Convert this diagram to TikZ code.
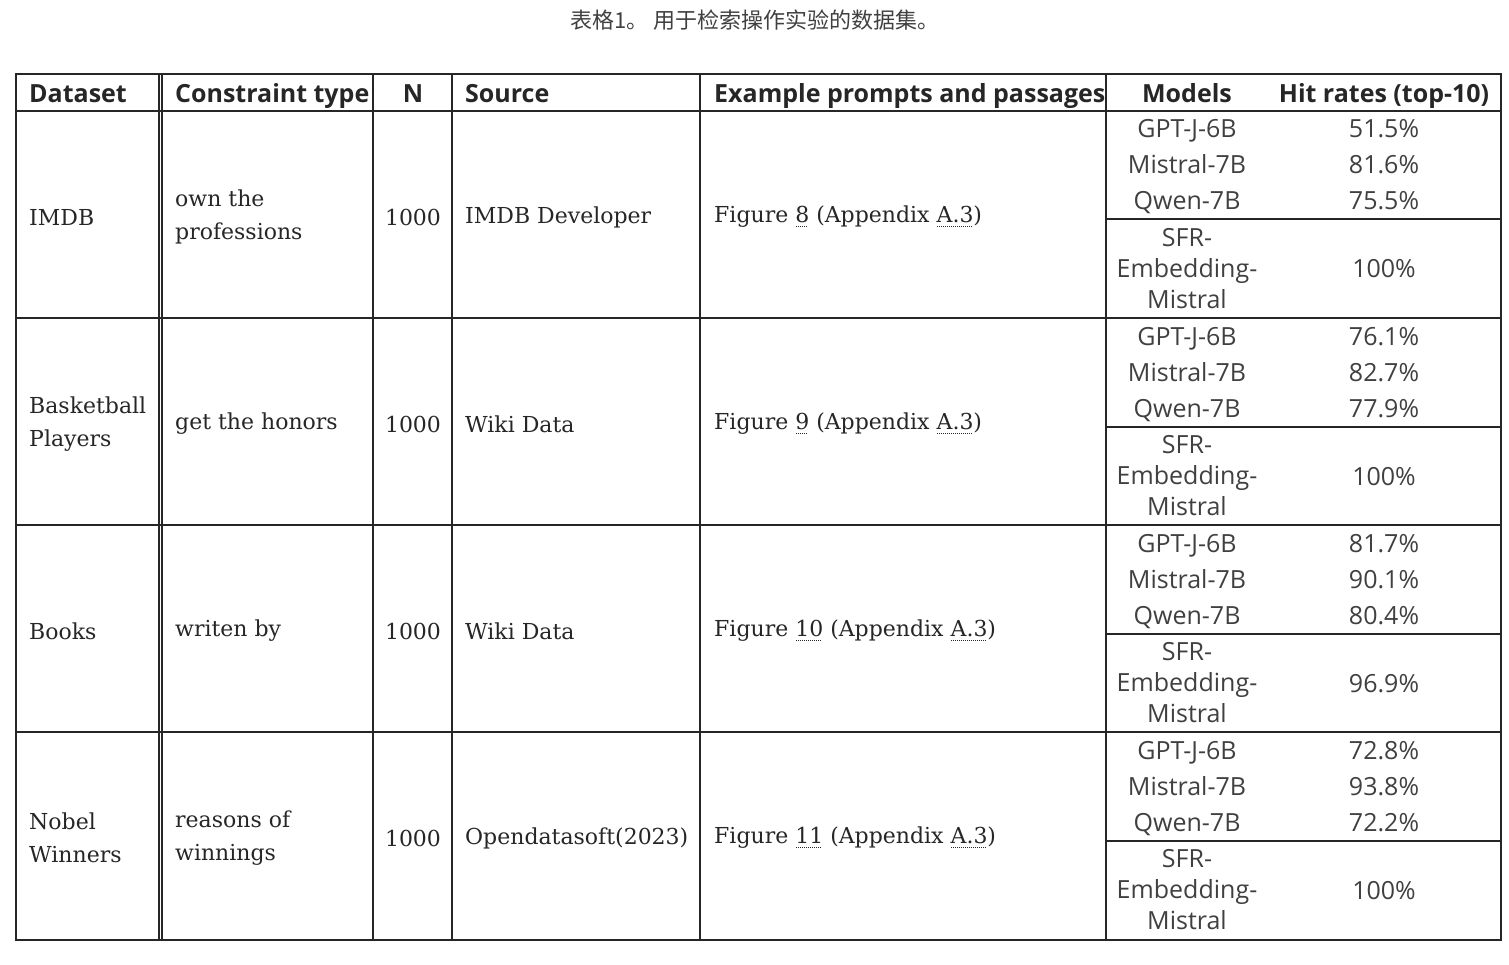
\documentclass[tikz,border=0pt]{standalone}
\usepackage{fontspec}
\setmainfont{DejaVu Serif}
\newfontfamily\hdr{Open Sans}
\newfontfamily\lite{Open Sans}
\newfontfamily\cjk{Noto Sans CJK SC}
\newcommand\dul[1]{\setbox0\hbox{#1}\rlap{\raisebox{-4pt}{\leaders\hbox to 2pt{\hss\rule{1pt}{1pt}\hss}\hskip\wd0}}\box0}
\begin{document}
\begin{tikzpicture}[x=1pt,y=-1pt,
  grid/.style={draw=black!85,line width=1.2pt},
  hd/.style={font=\hdr\bfseries\fontsize{25}{28}\selectfont,text=black!85,inner sep=0pt,anchor=base},
  bd/.style={font=\fontsize{22}{33}\selectfont,text=black!85,inner sep=0pt,align=left},
  md/.style={font=\lite\fontsize{25}{31}\selectfont,text=black!75,inner sep=0pt,align=center},
  mb/.style={md,anchor=base}]
\useasboundingbox (0,0) rectangle (1509,965);
\node[font=\cjk\fontsize{22}{24}\selectfont,text=black!75] (cap) at (755,20) {表格1。 用于检索操作实验的数据集。};
% grid
\draw[grid] (16,74) rectangle (1501,940);
\foreach \y in {111,318,525,732} \draw[grid] (16,\y) -- (1501,\y);
\foreach \y in {219,427,634,841} \draw[grid] (1106,\y) -- (1501,\y);
\foreach \x in {159,162,373,452,700,1106} \draw[grid] (\x,74) -- (\x,940);
% header
\node[hd,anchor=base west] (h1) at (29,103) {Dataset};
\node[hd,anchor=base west] (h2) at (175,103) {Constraint type};
\node[hd] (h3) at (413,103) {N};
\node[hd,anchor=base west] (h4) at (465,103) {Source};
\node[hd,anchor=base west] (h5) at (714,103) {Example prompts and passages};
\node[hd] (h6) at (1187,103) {Models};
\node[hd] (h7) at (1384,103) {Hit rates (top-10)};
% rows
\foreach \yc/\ds/\ct/\src/\fig/\a/\b/\c/\d [count=\i] in {
 217/IMDB/{own the\\professions}/IMDB Developer/8/51.5\%/81.6\%/75.5\%/100\%,
 424/{Basketball\\Players}/get the honors/Wiki Data/9/76.1\%/82.7\%/77.9\%/100\%,
 631/Books/writen by/Wiki Data/10/81.7\%/90.1\%/80.4\%/96.9\%,
 838/{Nobel\\Winners}/{reasons of\\winnings}/Opendatasoft(2023)/11/72.8\%/93.8\%/72.2\%/100\%}{
  \node[bd,anchor=west] (ds\i) at (29,\yc) {\ds};
  \node[bd,anchor=west] (ct\i) at (175,\yc) {\ct};
  \node[bd] (n\i) at (413,\yc) {1000};
  \node[bd,anchor=west] (src\i) at (465,\yc) {\src};
  \node[bd,anchor=west] (fg\i) at (714,\yc) {Figure\ \dul{\fig}\ (Appendix\ \dul{A.3})};
  \node[mb] (m1\i) at (1187,\yc-79) {GPT-J-6B};
  \node[mb] (m2\i) at (1187,\yc-43) {Mistral-7B};
  \node[mb] (m3\i) at (1187,\yc-7) {Qwen-7B};
  \node[md] (m4\i) at (1187,\yc+52) {SFR-\\Embedding-\\Mistral};
  \node[mb] (r1\i) at (1384,\yc-79) {\a};
  \node[mb] (r2\i) at (1384,\yc-43) {\b};
  \node[mb] (r3\i) at (1384,\yc-7) {\c};
  \node[mb] (r4\i) at (1384,\yc+61) {\d};
}
\end{tikzpicture}
\end{document}
